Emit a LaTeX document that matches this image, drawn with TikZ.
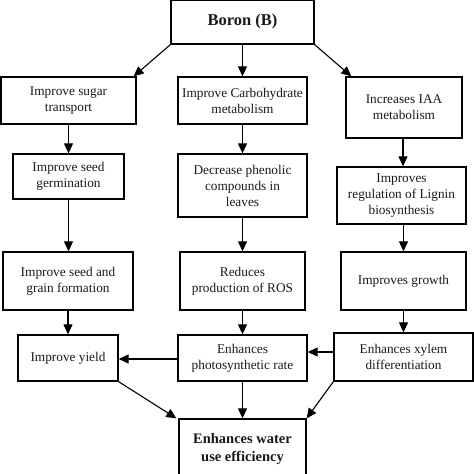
\documentclass[tikz,border=0pt]{standalone}
\usepackage{fontspec}
\setmainfont{Liberation Serif}
\usetikzlibrary{arrows.meta}
\begin{document}
\begin{tikzpicture}[x=1pt,y=-1pt,
  box/.style={draw,line width=1.3pt,rectangle,align=center,inner sep=1pt,
    font=\fontsize{13.3}{16}\selectfont,text=black!90},
  arr/.style={line width=1.1pt,-{Triangle[length=10pt,width=9pt]}}]
\useasboundingbox (0,0) rectangle (474,474);
\node[box,minimum width=143pt,minimum height=44pt,font=\fontsize{16.5}{19}\selectfont\bfseries] (boron) at (242.5,22) {Boron (B)};
\node[box,minimum width=135pt,minimum height=47pt] (a1) at (68.5,100.5) {Improve sugar\\transport};
\node[box,minimum width=129pt,minimum height=47pt] (b1) at (242.5,100.5) {Improve Carbohydrate\\metabolism};
\node[box,minimum width=116pt,minimum height=61pt] (c1) at (404,107.5) {Increases IAA\\metabolism};
\node[box,minimum width=111pt,minimum height=45pt] (a2) at (68.5,176.5) {Improve seed\\germination};
\node[box,minimum width=129pt,minimum height=63pt] (b2) at (242.5,185.5) {Decrease phenolic\\compounds in\\leaves};
\node[box,minimum width=129pt,minimum height=57pt] (c2) at (401.5,195.5) {Improves\\regulation of Lignin\\biosynthesis};
\node[box,minimum width=130pt,minimum height=58pt] (a3) at (68,281) {Improve seed and\\grain formation};
\node[box,minimum width=125pt,minimum height=58pt] (b3) at (242.5,281) {Reduces\\production of ROS};
\node[box,minimum width=125pt,minimum height=58pt] (c3) at (403.5,281) {Improves growth};
\node[box,minimum width=100pt,minimum height=46pt] (a4) at (68,358) {Improve yield};
\node[box,minimum width=129pt,minimum height=46pt] (b4) at (242.5,358) {Enhances\\photosynthetic rate};
\node[box,minimum width=139pt,minimum height=48pt] (c4) at (403.5,357) {Enhances xylem\\differentiation};
\node[box,minimum width=127pt,minimum height=60pt,font=\fontsize{14.5}{17.5}\selectfont\bfseries] (d) at (242.5,449) {Enhances water\\use efficiency};
% connectors
\draw[arr] (boron.south west) -- ([xshift=-3pt]a1.north east);
\draw[arr] (boron.south) -- (b1.north);
\draw[arr] (boron.south east) -- ([xshift=6pt]c1.north west);
\draw[arr] (a1.south) -- (a1.south |- a2.north);
\draw[arr] (b1.south) -- (b2.north);
\draw[arr] ([xshift=-1pt]c1.south) -- ([xshift=-1pt]c1.south |- c2.north);
\draw[arr] (a2.south) -- (a2.south |- a3.north);
\draw[arr] (b2.south) -- (b3.north);
\draw[arr] (c2.south -| c3.south) -- (c3.north);
\draw[arr] (a3.south) -- (a4.north);
\draw[arr] (b3.south) -- (b4.north);
\draw[arr] (c3.south) -- (c3.south |- c4.north);
\draw[arr] ([yshift=-1pt]b4.west) -- ([yshift=-1pt]b4.west -| a4.east);
\draw[arr] ([yshift=5pt]c4.west) -- ([yshift=5pt]c4.west -| b4.east);
\draw[arr] (a4.south east) -- ([xshift=-2pt]d.north west);
\draw[arr] (b4.south) -- (d.north);
\draw[arr] (c4.south west) -- (d.north east);
\end{tikzpicture}
\end{document}
